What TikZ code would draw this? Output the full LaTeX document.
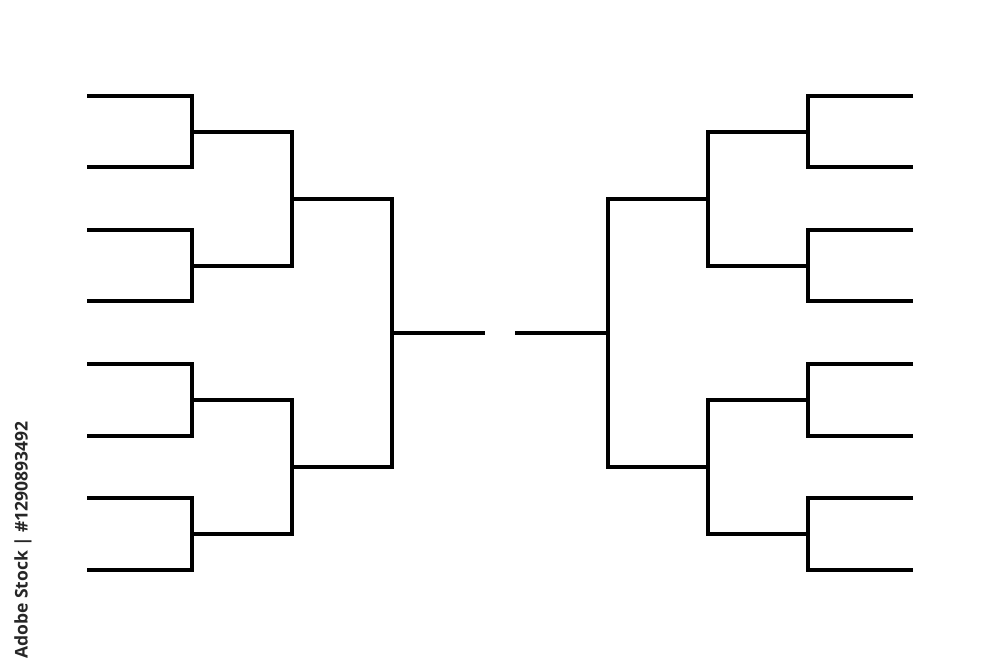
\documentclass[tikz,border=0pt]{standalone}
\usepackage{fontspec}
\setmainfont{Open Sans}
\begin{document}
\begin{tikzpicture}[x=1pt,y=-1pt,
  br/.style={line width=4pt, line join=miter, line cap=butt, draw=black},
  idtext/.style={rotate=90, font=\bfseries\fontsize{17.5}{20}\selectfont, text=black!85, inner sep=0pt}]
\useasboundingbox (0,0) rectangle (1000,667);
% leaves
\foreach \i/\y in {1/96,2/167,3/230,4/301,5/364,6/436,7/498,8/570}{
  \coordinate (L\i) at (87,\y);
  \coordinate (R\i) at (913,\y);
}
% round 1 corners
\foreach \k/\y in {1/131.5,2/265.5,3/400,4/534}{
  \coordinate (LA\k) at (192,\y);
  \coordinate (RA\k) at (808,\y);
}
% round 2 corners
\foreach \k/\y in {1/198.5,2/467}{
  \coordinate (LB\k) at (292,\y);
  \coordinate (RB\k) at (708,\y);
}
\coordinate (LC) at (392,333);
\coordinate (RC) at (608,333);
\coordinate (LF) at (485,333);
\coordinate (RF) at (515,333);
% left side
\draw[br] (L1) -| (LA1) |- (L2);
\draw[br] (L3) -| (LA2) |- (L4);
\draw[br] (L5) -| (LA3) |- (L6);
\draw[br] (L7) -| (LA4) |- (L8);
\draw[br] (LA1) -| (LB1) |- (LA2);
\draw[br] (LA3) -| (LB2) |- (LA4);
\draw[br] (LB1) -| (LC) |- (LB2);
\draw[br] (LC) -- (LF);
% right side
\draw[br] (R1) -| (RA1) |- (R2);
\draw[br] (R3) -| (RA2) |- (R4);
\draw[br] (R5) -| (RA3) |- (R6);
\draw[br] (R7) -| (RA4) |- (R8);
\draw[br] (RA1) -| (RB1) |- (RA2);
\draw[br] (RA3) -| (RB2) |- (RA4);
\draw[br] (RB1) -| (RC) |- (RB2);
\draw[br] (RC) -- (RF);
% id text
\node[idtext] (id) at (23,540) {Adobe Stock | \#1290893492};
\end{tikzpicture}
\end{document}
